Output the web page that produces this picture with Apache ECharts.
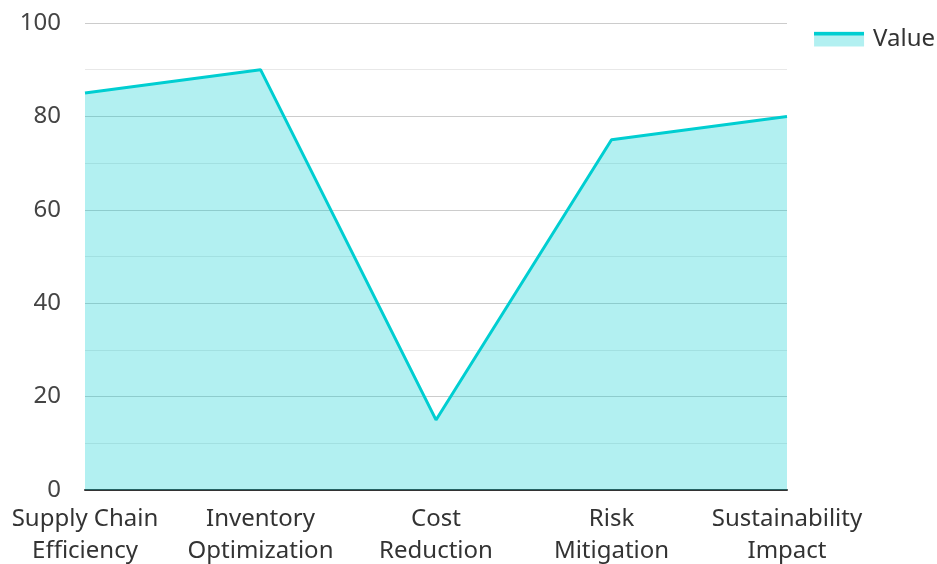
<!DOCTYPE html>
<html>
<head>
<meta charset="utf-8">
<script src="https://cdn.jsdelivr.net/npm/echarts@6/dist/echarts.min.js"></script>
<style>
  html, body { margin: 0; padding: 0; background: #fff; }
  #chart { width: 937px; height: 564px; }
</style>
</head>
<body>
<div id="chart"></div>
<script>
var categories = [
  "Supply Chain\nEfficiency",
  "Inventory\nOptimization",
  "Cost\nReduction",
  "Risk\nMitigation",
  "Sustainability\nImpact"
];
var values = [85, 90, 15, 75, 80];
var seriesName = "Value";

var chart = echarts.init(document.getElementById("chart"));
chart.setOption({
  animation: false,
  textStyle: { fontFamily: "Noto Sans" },
  legend: {
    data: [{ name: seriesName, icon: "rect" }],
    top: 27,
    right: 2,
    padding: 0,
    itemWidth: 50,
    itemHeight: 15,
    itemStyle: { color: "rgba(0,206,209,0.3)", borderWidth: 0 },
    textStyle: { fontSize: 24, color: "#333", padding: [0, 0, 0, 4] }
  },
  // top stroke of the legend swatch
  graphic: [{
    type: "rect",
    shape: { x: 814, y: 32, width: 50, height: 3.5 },
    style: { fill: "#00CED1" },
    z: 100
  }],
  grid: { left: 85, right: 150, top: 23, bottom: 74, containLabel: false, outerBoundsMode: "none" },
  xAxis: {
    type: "category",
    data: categories,
    boundaryGap: false,
    axisTick: { show: false },
    axisLine: { lineStyle: { color: "#333", width: 2 } },
    axisLabel: { fontSize: 24, color: "#333", lineHeight: 32, margin: 13, interval: 0 }
  },
  yAxis: {
    type: "value",
    min: 0,
    max: 100,
    interval: 20,
    axisLine: { show: false },
    axisTick: { show: false },
    axisLabel: { fontSize: 24, color: "#444", margin: 24 },
    splitLine: { lineStyle: { color: "#ccc", width: 1 } },
    minorTick: { show: false, splitNumber: 2 },
    minorSplitLine: { show: true, lineStyle: { color: "#e8e8e8", width: 1 } }
  },
  series: [{
    name: seriesName,
    type: "line",
    data: values,
    symbol: "none",
    lineStyle: { color: "#00CED1", width: 3 },
    itemStyle: { color: "#00CED1" },
    areaStyle: { color: "#00CED1", opacity: 0.3 }
  }]
});
</script>
</body>
</html>
